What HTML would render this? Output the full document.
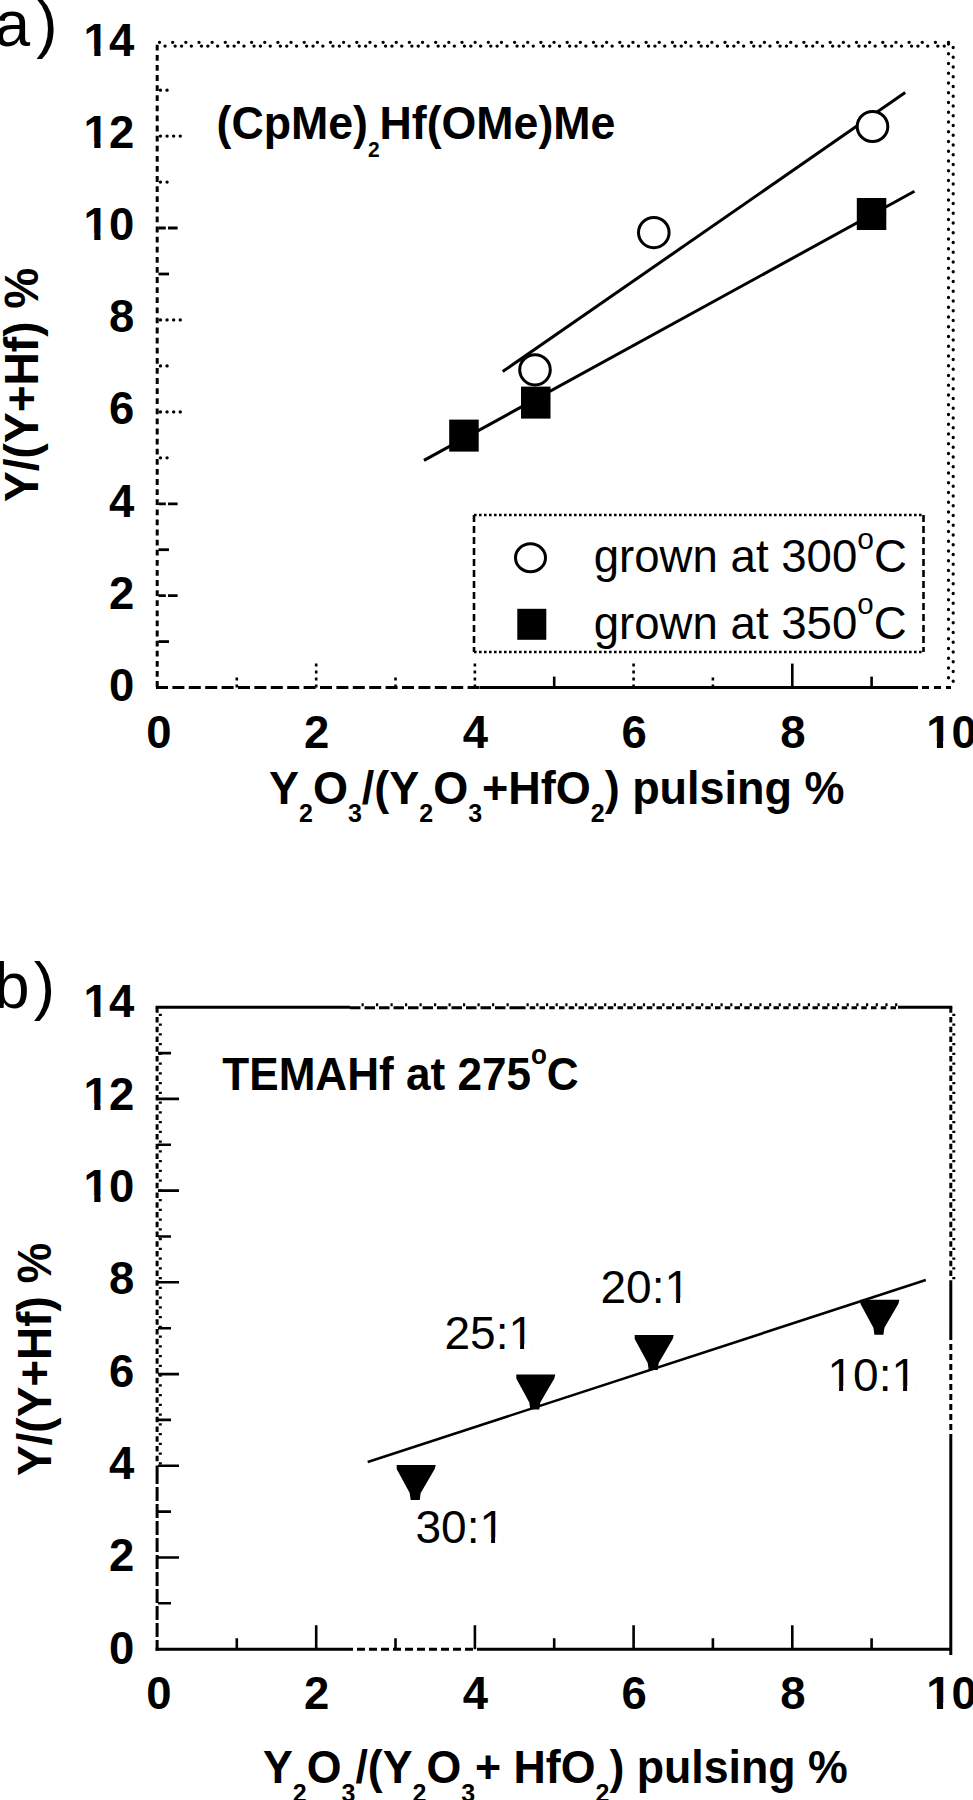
<!DOCTYPE html>
<html><head><meta charset="utf-8"><title>Figure</title>
<style>html,body{margin:0;padding:0;background:#fff}body{width:973px;height:1800px;overflow:hidden}svg{display:block}text{font-family:"Liberation Sans", sans-serif;fill:#000}.b{font-weight:bold}</style>
</head><body>
<svg width="973" height="1800" viewBox="0 0 973 1800">
<rect width="973" height="1800" fill="#fff"/>
<!-- panel a -->
<g fill="none" stroke="#000">
<path d="M157.2 44.8L157.2 688.6" stroke-width="3" stroke-dasharray="5.8 4.3"/>
<path d="M159 46.1L952 46.1" stroke-width="3.3" stroke-dasharray="0.1 10 0.1 6.3 0.1 9.7" stroke-dashoffset="-6" stroke-linecap="round"/>
<path d="M159 42.3L952 42.3" stroke-width="3.3" stroke-dasharray="0.1 13.05" stroke-dashoffset="-0.5" stroke-linecap="round"/>
<path d="M948.5 44L948.5 685.6" stroke-width="3.3" stroke-dasharray="0.1 9.65" stroke-linecap="round"/>
<path d="M953.2 47.5L953.2 685.6" stroke-width="3.3" stroke-dasharray="0.1 9.65" stroke-linecap="round"/>
<path d="M156 687.6L480 687.6" stroke-width="3" stroke-dasharray="12 4.4"/>
<path d="M480 687.6L918 687.6" stroke-width="3"/>
<path d="M922 687.6L951 687.6" stroke-width="3" stroke-dasharray="7 5"/>
<path d="M158.5 641.6L169 641.6" stroke-width="2.8"/>
<path d="M158.5 595.7L177.6 595.7" stroke-width="2.8" stroke-dasharray="7.3 2.2 9.6"/>
<path d="M158.5 549.7L169 549.7" stroke-width="2.8"/>
<path d="M158.5 503.8L177.6 503.8" stroke-width="2.8" stroke-dasharray="7.3 2.2 9.6"/>
<path d="M160.4 457.8L168 457.8" stroke-width="3.3" stroke-dasharray="0.1 6.5" stroke-linecap="round"/>
<path d="M160.4 411.9L181 411.9" stroke-width="3.3" stroke-dasharray="0.1 6.5" stroke-linecap="round"/>
<path d="M160.4 365.9L168 365.9" stroke-width="3.3" stroke-dasharray="0.1 6.5" stroke-linecap="round"/>
<path d="M160.4 319.9L181 319.9" stroke-width="3.3" stroke-dasharray="0.1 6.5" stroke-linecap="round"/>
<path d="M158.5 274L169 274" stroke-width="2.8"/>
<path d="M158.5 228L177.6 228" stroke-width="2.8" stroke-dasharray="7.3 2.2 9.6"/>
<path d="M160.4 182.1L168 182.1" stroke-width="3.3" stroke-dasharray="0.1 6.5" stroke-linecap="round"/>
<path d="M160.4 136.1L181 136.1" stroke-width="3.3" stroke-dasharray="0.1 6.5" stroke-linecap="round"/>
<path d="M160.4 90.2L168 90.2" stroke-width="3.3" stroke-dasharray="0.1 6.5" stroke-linecap="round"/>
<path d="M236.8 687.6L236.8 676.6" stroke-width="2.6" stroke-dasharray="3 4"/>
<path d="M316.2 687.6L316.2 663.6" stroke-width="2.6" stroke-dasharray="3 4"/>
<path d="M395.5 687.6L395.5 676.6" stroke-width="2.6" stroke-dasharray="3 4"/>
<path d="M474.9 687.6L474.9 663.6" stroke-width="2.6" stroke-dasharray="3 4"/>
<path d="M554.2 687.6L554.2 676.6" stroke-width="2.6"/>
<path d="M633.6 687.6L633.6 663.6" stroke-width="2.6" stroke-dasharray="3 4"/>
<path d="M712.9 687.6L712.9 676.6" stroke-width="2.6" stroke-dasharray="3 4"/>
<path d="M792.3 687.6L792.3 663.6" stroke-width="2.6"/>
<path d="M871.6 687.6L871.6 676.6" stroke-width="2.6"/>
</g>
<g class="b" font-size="45.5" text-anchor="end">
<text transform="translate(134.2 701) scale(1 1.035)">0</text>
<text transform="translate(134.2 608.8) scale(1 1.035)">2</text>
<text transform="translate(134.2 516.6) scale(1 1.035)">4</text>
<text transform="translate(134.2 424.4) scale(1 1.035)">6</text>
<text transform="translate(134.2 332.2) scale(1 1.035)">8</text>
<text transform="translate(134.2 240) scale(1 1.035)">10</text>
<text transform="translate(134.2 147.8) scale(1 1.035)">12</text>
<text transform="translate(134.2 55.6) scale(1 1.035)">14</text>
</g>
<g class="b" font-size="45.5" text-anchor="middle">
<text transform="translate(159 747.8) scale(1 1.035)">0</text>
<text transform="translate(316.7 747.8) scale(1 1.035)">2</text>
<text transform="translate(475.4 747.8) scale(1 1.035)">4</text>
<text transform="translate(634.1 747.8) scale(1 1.035)">6</text>
<text transform="translate(792.8 747.8) scale(1 1.035)">8</text>
<text transform="translate(951.5 747.8) scale(1 1.035)">10</text>
</g>
<text y="45.5" font-size="64"><tspan x="-5.5">a</tspan><tspan x="36.3">)</tspan></text>
<text class="b" font-size="44.7" transform="translate(216.5 138.5) scale(1 1.03)">(CpMe)<tspan font-size="21" dy="17.5">2</tspan><tspan dy="-17.5">Hf(OMe)Me</tspan></text>
<g stroke="#000" stroke-width="3" fill="none">
<path d="M502.7 371.6L905.2 92.6"/>
<path d="M424 460.4L914.5 191.3"/>
</g>
<g fill="#fff" stroke="#000" stroke-width="3">
<ellipse cx="535" cy="369.8" rx="15.3" ry="15.1"/>
<ellipse cx="653.8" cy="232.6" rx="15.3" ry="15.1"/>
<ellipse cx="872.5" cy="126.5" rx="15.3" ry="15.1"/>
</g>
<g fill="#000">
<rect x="449.2" y="419.6" width="29.5" height="32"/>
<rect x="521" y="386.6" width="29.5" height="32"/>
<rect x="856.8" y="198" width="29.5" height="32"/>
</g>
<rect x="474" y="515" width="449.5" height="137" fill="#fff"/>
<g fill="none" stroke="#000">
<path d="M474 515L923.5 515" stroke-width="2.6" stroke-dasharray="2.6 2.4"/>
<path d="M474 652L923.5 652" stroke-width="2.6" stroke-dasharray="2.6 2.4"/>
<path d="M474 515L474 652" stroke-width="2.6" stroke-dasharray="7 4"/>
<path d="M923.5 515L923.5 652" stroke-width="2.6" stroke-dasharray="7 4"/>
</g>
<ellipse cx="530.5" cy="557.7" rx="15" ry="14" fill="#fff" stroke="#000" stroke-width="3"/>
<rect x="517.3" y="608.8" width="29" height="31" fill="#000"/>
<text x="593.7" y="571.5" font-size="45.6">grown at 300<tspan font-size="30" dy="-22.2">o</tspan><tspan dy="22.2">C</tspan></text>
<text x="593.7" y="639.3" font-size="45.6">grown at 350<tspan font-size="29.5" dy="-25.5">o</tspan><tspan dy="25.5">C</tspan></text>
<text class="b" font-size="45" transform="translate(269 803.5) scale(1 1.03)">Y<tspan font-size="25" dy="18.4">2</tspan><tspan dy="-18.4">O</tspan><tspan font-size="25" dy="18.4">3</tspan><tspan dy="-18.4">/(Y</tspan><tspan font-size="25" dy="18.4">2</tspan><tspan dy="-18.4">O</tspan><tspan font-size="25" dy="18.4">3</tspan><tspan dy="-18.4">+HfO</tspan><tspan font-size="25" dy="18.4">2</tspan><tspan dy="-18.4">) pulsing %</tspan></text>
<text class="b" font-size="46.1" transform="translate(38 502) rotate(-90) scale(1 1.03)">Y/(Y+Hf) %</text>
<!-- panel b -->
<g fill="none" stroke="#000">
<path d="M157.1 1007.2L157.1 1470" stroke-width="3" stroke-dasharray="5.5 4.25"/>
<path d="M160.3 1007.2L160.3 1470" stroke-width="3" stroke-dasharray="2.2 7.55" stroke-dashoffset="-6.5"/>
<path d="M157.1 1470L157.1 1650.7" stroke-width="3" stroke-dasharray="14 3"/>
<path d="M155.6 1007.2L350 1007.2" stroke-width="3"/>
<path d="M350 1007.7L520 1007.7" stroke-width="3" stroke-dasharray="10.5 4"/>
<path d="M350 1004.7L520 1004.7" stroke-width="3" stroke-dasharray="2.2 12.3" stroke-dashoffset="-11.5"/>
<path d="M520 1007.7L898 1007.7" stroke-width="3" stroke-dasharray="5.5 4.25"/>
<path d="M520 1004.7L898 1004.7" stroke-width="3" stroke-dasharray="2.2 7.5" stroke-dashoffset="-6.5"/>
<path d="M898 1007.2L952.3 1007.2" stroke-width="3"/>
<path d="M950.8 1007.2L950.8 1282" stroke-width="3" stroke-dasharray="5.5 4.25"/>
<path d="M953.8 1007.2L953.8 1282" stroke-width="3" stroke-dasharray="2.2 7.55" stroke-dashoffset="-6.5"/>
<path d="M950.8 1282L950.8 1334" stroke-width="3"/>
<path d="M950.8 1334L950.8 1440" stroke-width="3" stroke-dasharray="6 4"/>
<path d="M950.8 1440L950.8 1655" stroke-width="3"/>
<path d="M155.6 1649.2L345 1649.2" stroke-width="3"/>
<path d="M345 1649.2L480 1649.2" stroke-width="3" stroke-dasharray="8 4"/>
<path d="M480 1649.2L951 1649.2" stroke-width="3"/>
<path d="M158 1603.3h13M158 1557.5h21M158 1511.6h13M158 1465.8h21M158 1419.9h13M158 1374.1h21M158 1328.2h13M158 1282.3h21M158 1236.5h13M158 1190.6h21M158 1144.8h13M158 1098.9h21M158 1053.1h13M236.8 1649.2v-11M316.2 1649.2v-24M395.5 1649.2v-11M474.9 1649.2v-24M554.2 1649.2v-11M633.6 1649.2v-24M712.9 1649.2v-11M792.3 1649.2v-24M871.6 1649.2v-11" stroke-width="2.6"/>
</g>
<g class="b" font-size="45.5" text-anchor="end">
<text transform="translate(134.2 1663.5) scale(1 1.035)">0</text>
<text transform="translate(134.2 1571.2) scale(1 1.035)">2</text>
<text transform="translate(134.2 1478.9) scale(1 1.035)">4</text>
<text transform="translate(134.2 1386.6) scale(1 1.035)">6</text>
<text transform="translate(134.2 1294.3) scale(1 1.035)">8</text>
<text transform="translate(134.2 1202) scale(1 1.035)">10</text>
<text transform="translate(134.2 1109.7) scale(1 1.035)">12</text>
<text transform="translate(134.2 1017.4) scale(1 1.035)">14</text>
</g>
<g class="b" font-size="45.5" text-anchor="middle">
<text transform="translate(159 1709.3) scale(1 1.035)">0</text>
<text transform="translate(316.7 1709.3) scale(1 1.035)">2</text>
<text transform="translate(475.4 1709.3) scale(1 1.035)">4</text>
<text transform="translate(634.1 1709.3) scale(1 1.035)">6</text>
<text transform="translate(792.8 1709.3) scale(1 1.035)">8</text>
<text transform="translate(951.5 1709.3) scale(1 1.035)">10</text>
</g>
<text y="1008" font-size="64"><tspan x="-6">b</tspan><tspan x="33.8">)</tspan></text>
<text class="b" font-size="44.1" transform="translate(222.3 1089.5) scale(1 1.03)">TEMAHf at 275<tspan font-size="26" dy="-25.2">o</tspan><tspan dy="25.2">C</tspan></text>
<path d="M367.7 1462L925.8 1280" stroke="#000" stroke-width="2.6" fill="none"/>
<g fill="#000">
<path d="M396.7 1465h39l-1 4l-14 24l-1 7h-9l-1 -7l-13 -24z"/>
<path d="M516.3 1374.4h39l-1 4l-14 24l-1 7h-9l-1 -7l-13 -24z"/>
<path d="M634.7 1335h39l-1 4l-14 24l-1 7h-9l-1 -7l-13 -24z"/>
<path d="M860.4 1299.8h39l-1 4l-14 24l-1 7h-9l-1 -7l-13 -24z"/>
</g>
<g font-size="46">
<text x="415.5" y="1542.5">30:1</text>
<text x="444.5" y="1349.3">25:1</text>
<text x="600.5" y="1303.3">20:1</text>
<text x="827.5" y="1391">10:1</text>
</g>
<text class="b" font-size="44.7" transform="translate(263 1783.4) scale(1 1.03)">Y<tspan font-size="25" dy="18.4">2</tspan><tspan dy="-18.4">O</tspan><tspan font-size="25" dy="18.4">3</tspan><tspan dy="-18.4">/(Y</tspan><tspan font-size="25" dy="18.4">2</tspan><tspan dy="-18.4">O</tspan><tspan font-size="25" dy="18.4">3</tspan><tspan dy="-18.4">+ HfO</tspan><tspan font-size="25" dy="18.4">2</tspan><tspan dy="-18.4">) pulsing %</tspan></text>
<text class="b" font-size="45.9" transform="translate(50.5 1476) rotate(-90) scale(1 1.03)">Y/(Y+Hf) %</text>
<g fill="#fff">
<rect x="85.7" y="233.6" width="8.6" height="7.2"/>
<rect x="100.5" y="233.6" width="8" height="7.2"/>
<rect x="85.7" y="141.4" width="8.6" height="7.2"/>
<rect x="100.5" y="141.4" width="8" height="7.2"/>
<rect x="85.7" y="49.2" width="8.6" height="7.2"/>
<rect x="100.5" y="49.2" width="8" height="7.2"/>
<rect x="928.3" y="741.4" width="8.6" height="7.2"/>
<rect x="943.1" y="741.4" width="8" height="7.2"/>
<rect x="85.7" y="1195.6" width="8.6" height="7.2"/>
<rect x="100.5" y="1195.6" width="8" height="7.2"/>
<rect x="85.7" y="1103.3" width="8.6" height="7.2"/>
<rect x="100.5" y="1103.3" width="8" height="7.2"/>
<rect x="85.7" y="1011" width="8.6" height="7.2"/>
<rect x="100.5" y="1011" width="8" height="7.2"/>
<rect x="928.3" y="1702.9" width="8.6" height="7.2"/>
<rect x="943.1" y="1702.9" width="8" height="7.2"/>
<rect x="482.2" y="1537.5" width="8.9" height="5.8"/>
<rect x="495.1" y="1537.5" width="8.5" height="5.8"/>
<rect x="511.2" y="1344.3" width="8.9" height="5.8"/>
<rect x="524.1" y="1344.3" width="8.5" height="5.8"/>
<rect x="667.2" y="1298.3" width="8.9" height="5.8"/>
<rect x="680.1" y="1298.3" width="8.5" height="5.8"/>
<rect x="894.2" y="1386" width="8.9" height="5.8"/>
<rect x="907.1" y="1386" width="8.5" height="5.8"/>
<rect x="830.2" y="1386" width="8.9" height="5.8"/>
<rect x="843.1" y="1386" width="8.5" height="5.8"/>
</g>
</svg>
</body></html>
